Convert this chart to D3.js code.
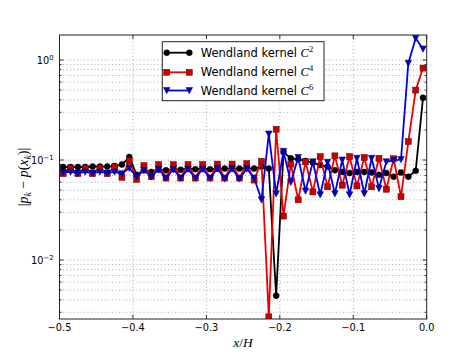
<!DOCTYPE html>
<html><head><meta charset="utf-8">
<script src="https://cdn.jsdelivr.net/npm/d3@7"></script>
<style>body{margin:0;background:#fff}svg{display:block}</style>
</head><body>
<script>
const xValues = [-0.495,-0.485,-0.475,-0.465,-0.455,-0.445,-0.435,-0.425,-0.415,-0.405,
 -0.395,-0.385,-0.375,-0.365,-0.355,-0.345,-0.335,-0.325,-0.315,-0.305,
 -0.295,-0.285,-0.275,-0.265,-0.255,-0.245,-0.235,-0.225,-0.215,-0.205,
 -0.195,-0.185,-0.175,-0.165,-0.155,-0.145,-0.135,-0.125,-0.115,-0.105,
 -0.095,-0.085,-0.075,-0.065,-0.055,-0.045,-0.035,-0.025,-0.015,-0.005];
const seriesC2 = [0.085,0.085,0.085,0.085,0.086,0.086,0.086,0.087,0.090,0.107,
 0.071,0.079,0.076,0.080,0.079,0.081,0.080,0.082,0.081,0.082,
 0.081,0.082,0.082,0.082,0.082,0.083,0.082,0.086,0.082,0.0044,
 0.120,0.104,0.102,0.098,0.094,0.089,0.086,0.079,0.076,0.074,
 0.076,0.076,0.075,0.071,0.074,0.068,0.075,0.068,0.078,0.42];
const seriesC4 = [0.073,0.083,0.073,0.083,0.073,0.083,0.073,0.085,0.067,0.098,
 0.064,0.088,0.068,0.090,0.066,0.090,0.066,0.090,0.066,0.090,
 0.066,0.091,0.066,0.091,0.066,0.092,0.063,0.097,0.0027,0.203,
 0.0275,0.091,0.040,0.096,0.048,0.108,0.054,0.110,0.056,0.108,
 0.055,0.106,0.054,0.104,0.051,0.103,0.043,0.153,0.50,0.83];
const seriesC6 = [0.075,0.076,0.074,0.076,0.074,0.076,0.074,0.076,0.073,0.083,
 0.068,0.079,0.068,0.081,0.066,0.081,0.066,0.081,0.066,0.081,
 0.066,0.082,0.065,0.082,0.065,0.082,0.066,0.040,0.182,0.046,
 0.122,0.060,0.106,0.049,0.096,0.045,0.095,0.046,0.100,0.045,
 0.104,0.046,0.104,0.052,0.096,0.099,0.101,0.93,1.65,1.29];
const seriesNames = ["Wendland kernel ", "Wendland kernel ", "Wendland kernel "];
const seriesExp = ["2","4","6"];
const xTicks = [-0.5,-0.4,-0.3,-0.2,-0.1,0.0];
const xTickLabels = ["\u22120.5","\u22120.4","\u22120.3","\u22120.2","\u22120.1","0.0"];
const yTicks = [1, 0.1, 0.01];
const yTickExp = ["0","\u22121","\u22122"];

const W = 474, H = 355;
const L = 59.5, R = 426.7, T = 35, B = 319;
const svg = d3.select("body").append("svg").attr("width", W).attr("height", H);
const x = d3.scaleLinear().domain([-0.5, 0]).range([L, R]);
const y = d3.scaleLog().domain([Math.pow(10,-2.59), Math.pow(10,0.25)]).range([B, T]);

const minorVals = [];
[-3,-2,-1,0].forEach(e => { for (let m = 2; m <= 9; m++) { const v = m*Math.pow(10,e); if (v > y.domain()[0] && v < y.domain()[1]) minorVals.push(v); } });

const grid = svg.append("g").attr("stroke","#999").attr("stroke-width",0.8).attr("stroke-dasharray","1,2.5");
grid.selectAll("line.xg").data(xTicks.slice(1,-1)).enter().append("line")
 .attr("x1", d=>x(d)).attr("x2", d=>x(d)).attr("y1", T).attr("y2", B);
grid.selectAll("line.yg").data(yTicks.concat(minorVals)).enter().append("line")
 .attr("x1", L).attr("x2", R).attr("y1", d=>y(d)).attr("y2", d=>y(d));

const tk = svg.append("g").attr("stroke","#000").attr("stroke-width",0.8);
xTicks.forEach(v => {
  tk.append("line").attr("x1",x(v)).attr("x2",x(v)).attr("y1",B).attr("y2",B-4);
  tk.append("line").attr("x1",x(v)).attr("x2",x(v)).attr("y1",T).attr("y2",T+4);
});
yTicks.forEach(v => {
  tk.append("line").attr("x1",L).attr("x2",L+4).attr("y1",y(v)).attr("y2",y(v));
  tk.append("line").attr("x1",R).attr("x2",R-4).attr("y1",y(v)).attr("y2",y(v));
});
minorVals.forEach(v => {
  tk.append("line").attr("x1",L).attr("x2",L+2).attr("y1",y(v)).attr("y2",y(v));
  tk.append("line").attr("x1",R).attr("x2",R-2).attr("y1",y(v)).attr("y2",y(v));
});

svg.append("clipPath").attr("id","pc").append("rect").attr("x",L).attr("y",T).attr("width",R-L).attr("height",B-T);
const series = [
  {vals: seriesC2, color:"#000000", marker:"circle"},
  {vals: seriesC4, color:"#ee0000", marker:"square"},
  {vals: seriesC6, color:"#0000ee", marker:"tri"}
];
const line = d3.line().x(d=>x(d[0])).y(d=>y(d[1]));
function drawMarker(g, type, cx, cy, color) {
  if (type === "circle") g.append("circle").attr("cx",cx).attr("cy",cy).attr("r",3).attr("fill",color).attr("stroke","#000").attr("stroke-width",0.5);
  else if (type === "square") g.append("rect").attr("x",cx-3).attr("y",cy-3).attr("width",6).attr("height",6).attr("fill","#cc0000").attr("stroke","#550000").attr("stroke-width",0.5);
  else g.append("path").attr("d",`M${cx-3.3},${cy-3} L${cx+3.3},${cy-3} L${cx},${cy+3.3} Z`).attr("fill","#0000cc").attr("stroke","#000044").attr("stroke-width",0.5);
}
const dg = svg.append("g").attr("clip-path","url(#pc)");
series.forEach(s => {
  const pts = xValues.map((xv,i)=>[xv, s.vals[i]]);
  dg.append("path").attr("d", line(pts)).attr("fill","none").attr("stroke",s.color).attr("stroke-width",1.8);
  pts.forEach(p => drawMarker(dg, s.marker, x(p[0]), y(p[1]), s.color));
});

svg.append("rect").attr("x",L).attr("y",T).attr("width",R-L).attr("height",B-T).attr("fill","none").attr("stroke","#222").attr("stroke-width",1);

const tf = "DejaVu Sans";
xTicks.forEach((v,i) => {
  svg.append("text").attr("x",x(v)).attr("y",330.5).attr("text-anchor","middle")
   .attr("font-family",tf).attr("font-size",9.8).attr("fill","#000").text(xTickLabels[i]);
});
yTicks.forEach((v,i) => {
  const t = svg.append("text").attr("x",53.5).attr("y",y(v)+3.5).attr("text-anchor","end")
   .attr("font-family",tf).attr("font-size",9.8).attr("fill","#000");
  t.append("tspan").text("10");
  t.append("tspan").attr("dy",-4).attr("font-size",6.8).text(yTickExp[i]);
});

const xl = svg.append("text").attr("x",(L+R)/2).attr("y",347).attr("text-anchor","middle")
 .attr("font-family","Liberation Serif").attr("font-size",13.5).attr("fill","#000");
xl.append("tspan").attr("font-style","italic").text("x");
xl.append("tspan").text("/");
xl.append("tspan").attr("font-style","italic").text("H");

const yl = svg.append("text").attr("transform",`translate(28,${(T+B)/2}) rotate(-90)`).attr("text-anchor","middle")
 .attr("font-family","Liberation Serif").attr("font-size",14).attr("fill","#000");
yl.append("tspan").text("|");
yl.append("tspan").attr("font-style","italic").text("p");
yl.append("tspan").attr("font-style","italic").attr("font-size",9.5).attr("dy",2.5).text("k");
yl.append("tspan").attr("dy",-2.5).text(" \u2212 ");
yl.append("tspan").attr("font-style","italic").text("p");
yl.append("tspan").text("(");
yl.append("tspan").attr("font-style","italic").text("x");
yl.append("tspan").attr("font-style","italic").attr("font-size",9.5).attr("dy",2.5).text("k");
yl.append("tspan").attr("dy",-2.5).text(")|");

const lg = svg.append("g");
lg.append("rect").attr("x",162.3).attr("y",41.7).attr("width",161.7).attr("height",59).attr("fill","#fff").attr("stroke","#222").attr("stroke-width",1);
const rowY = [52.7, 72.3, 90.5];
series.forEach((s,i) => {
  lg.append("line").attr("x1",166.7).attr("x2",189.3).attr("y1",rowY[i]).attr("y2",rowY[i]).attr("stroke",s.color).attr("stroke-width",1.8);
  drawMarker(lg, s.marker, 166.7, rowY[i], s.color);
  drawMarker(lg, s.marker, 189.3, rowY[i], s.color);
  const t = lg.append("text").attr("x",200.7).attr("y",rowY[i]+4).attr("font-family",tf).attr("font-size",11.5).attr("fill","#000");
  t.append("tspan").text(seriesNames[i]);
  t.append("tspan").attr("font-family","Liberation Serif").attr("font-style","italic").attr("font-size",12.5).text("C");
  t.append("tspan").attr("font-family","Liberation Serif").attr("font-size",8.5).attr("dy",-5).text(seriesExp[i]);
});
</script>
</body></html>
